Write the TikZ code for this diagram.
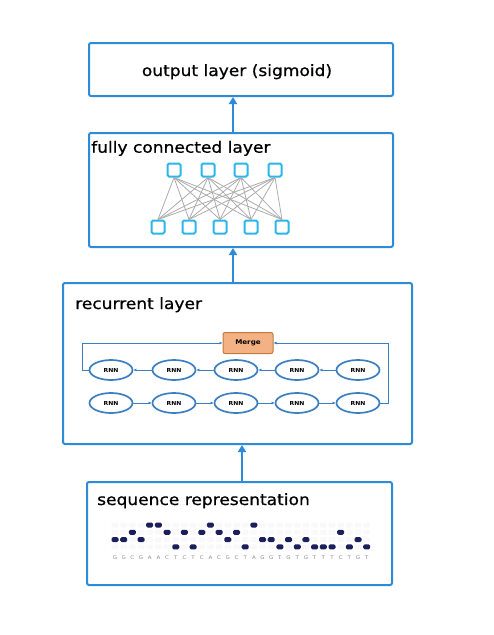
\documentclass[tikz,border=0pt]{standalone}
\usepackage{fontspec}
\setmainfont{DejaVu Sans}[FakeStretch=1.1]
\newfontfamily\titlefont{DejaVu Sans}[FakeStretch=1.1,FakeBold=0.8]
\usetikzlibrary{arrows.meta,shapes.geometric}
\definecolor{boxblue}{HTML}{2E8BD8}
\definecolor{rnnblue}{HTML}{3C7FC1}
\definecolor{sqcyan}{HTML}{29B6E9}
\definecolor{mergefill}{HTML}{F4B183}
\definecolor{mergedraw}{HTML}{C07A3A}
\definecolor{dotnavy}{HTML}{1B1F5C}
\begin{document}
\begin{tikzpicture}[x=1pt,y=-1pt,
  layer/.style={draw=boxblue, line width=2pt, rounded corners=2pt, inner sep=0pt},
  ltext/.style={font=\titlefont\fontsize{15.5}{18}\selectfont, inner sep=0pt, text=black},
  arr/.style={draw=boxblue, line width=2.5pt, -{Triangle[width=8pt,length=7pt]}},
  sq/.style={draw=sqcyan, line width=2pt, minimum size=13pt, inner sep=0pt, rounded corners=1.5pt, fill=white},
  fcline/.style={draw=gray!65, line width=0.8pt},
  rnn/.style={ellipse, draw=rnnblue, line width=1.7pt, minimum width=43pt, minimum height=20pt, inner sep=0pt, fill=white, font=\fontsize{5.5}{6}\selectfont\bfseries},
  rarr/.style={draw=rnnblue, line width=1pt, -{Latex[length=3pt,width=3pt]}},
  merge/.style={draw=mergedraw, fill=mergefill, line width=1pt, rounded corners=2pt, minimum width=50pt, minimum height=21pt, inner sep=0pt, font=\fontsize{6.5}{7}\selectfont\bfseries},
  seqdot/.style={fill=dotnavy, rounded corners=1.5pt, minimum width=7pt, minimum height=5pt, inner sep=0pt},
  bgdot/.style={fill=gray!5, rounded corners=1.5pt, minimum width=7pt, minimum height=5pt, inner sep=0pt},
  seqletter/.style={font=\fontsize{5}{6}\selectfont, text=gray!90, inner sep=0pt}
]
\useasboundingbox (0,0) rectangle (494,635);
\fill[white] (0,0) rectangle (494,635);

% layer boxes
\node[layer, minimum width=304pt, minimum height=53pt] (out) at (241,69.5) {};
\node[layer, minimum width=304pt, minimum height=114pt] (fc) at (241,190) {};
\node[layer, minimum width=349pt, minimum height=161pt] (rec) at (237.5,363.5) {};
\node[layer, minimum width=305pt, minimum height=103pt] (seq) at (239.5,533.5) {};

% titles
\node[ltext, anchor=base] (outt) at (237,76) {output layer (sigmoid)};
\node[ltext, anchor=base west] (fct) at (91,152.7) {fully connected layer};
\node[ltext, anchor=base west] (rect) at (75,309) {recurrent layer};
\node[ltext, anchor=base west] (seqt) at (97,505) {sequence representation};

% arrows between layers
\draw[arr] ([xshift=-8pt]fc.north) -- ([xshift=-8pt]out.south);
\draw[arr] ([xshift=-4.5pt]rec.north) -- ([xshift=-8pt]fc.south);
\draw[arr] ([xshift=2.5pt]seq.north) -- ([xshift=4.5pt]rec.south);

% fully connected layer
\foreach \x [count=\i] in {174,208,241,275} {
  \node[sq] (t\i) at (\x,170) {};
}
\foreach \x [count=\j] in {158,189,220,251,282} {
  \node[sq] (b\j) at (\x,227) {};
}
\foreach \i in {1,...,4} {
  \foreach \j in {1,...,5} {
    \draw[fcline] (t\i.south) -- (b\j.north);
  }
}

% recurrent layer
\foreach \x [count=\i] in {111,174,236,297,358} {
  \node[rnn] (a\i) at (\x,370) {RNN};
  \node[rnn] (c\i) at (\x,403) {RNN};
}
\foreach \i/\k in {1/2,2/3,3/4,4/5} {
  \draw[rarr] (a\k.west) -- (a\i.east);
  \draw[rarr] (c\i.east) -- (c\k.west);
}
\node[merge] (mg) at (248,343) {Merge};
\draw[rarr] (a1.west) -- ++(-6.5,0) |- (mg.west);
\draw[rarr] (c5.east) -- ++(8.5,0) |- (mg.east);

% sequence representation
\foreach \i in {1,...,30} {
  \foreach \L in {1,...,4} {
    \node[bgdot] (g\i-\L) at ({115+(\i-1)*8.68},{525+(\L-1)*7.3}) {};
  }
}
\foreach \L/\ch [count=\i] in {3/G,3/G,2/C,3/G,1/A,1/A,2/C,4/T,2/C,4/T,2/C,1/A,2/C,3/G,2/C,4/T,1/A,3/G,3/G,4/T,3/G,4/T,3/G,4/T,4/T,4/T,2/C,4/T,3/G,4/T} {
  \node[seqdot] (d\i) at ({115+(\i-1)*8.68},{525+(\L-1)*7.3}) {};
  \node[seqletter] (s\i) at ({115+(\i-1)*8.68},558) {\ch};
}
\end{tikzpicture}
\end{document}
